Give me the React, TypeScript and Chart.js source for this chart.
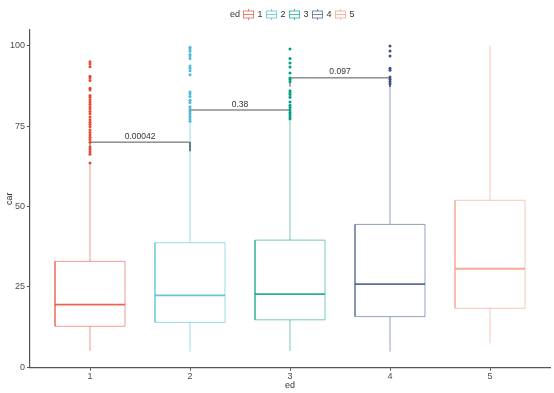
import React, { useEffect, useRef } from "react";
import { Chart, registerables } from "chart.js";
Chart.register(...registerables);

const categories = [1, 2, 3, 4, 5];
const q1 = [12.7, 13.9, 14.7, 15.7, 18.3];
const medians = [19.4, 22.3, 22.7, 25.8, 30.6];
const q3 = [32.9, 38.7, 39.5, 44.4, 51.9];
const whiskerLow = [5.1, 4.8, 5.0, 4.8, 7.4];
const whiskerHigh = [63, 76, 76.5, 87.5, 100];
const outliers1 = [95, 94.3, 93.5, 90.5, 90, 89.2, 86.8, 86.2, 84.5, 84, 83.2, 82.5, 81.8, 81, 80.3, 79.5, 78.8, 77.8, 77, 76.2, 75.5, 74.8, 73.8, 73, 72.2, 71.5, 70.8, 70, 68.5, 67.8, 67, 66.2, 63.5];
const outliers2 = [99.5, 99, 98.3, 97.3, 96.8, 96, 93.7, 93, 92.2, 91, 85.6, 85, 84.2, 83, 82.3, 81, 80.2, 79.5, 78.8, 78, 77.2, 76.5];
const outliers3 = [99, 96, 94.6, 93.4, 91.5, 90, 89.5, 88.8, 86, 85.4, 84.8, 84, 82.5, 81.5, 80.8, 80, 79.2, 78.5, 77.8, 77.2];
const outliers4 = [99.9, 98.4, 96.8, 93, 92.4, 90.3, 89.6, 88.9, 88.2];
const outliers5: number[] = [];
const outliers = [outliers1, outliers2, outliers3, outliers4, outliers5];
const yTicks = [0, 25, 50, 75, 100];
const bracketFrom = [1, 2, 3];
const bracketTo = [2, 3, 4];
const bracketY = [70, 80, 90];
const bracketLabels = ["0.00042", "0.38", "0.097"];
const colors = ["#E64B35", "#4DBBD5", "#00A087", "#3C5488", "#F39B7F"];
const HALF = 0.35;
const TICK = 2.8;

function rgba(hex: string, a: number) {
  const n = parseInt(hex.slice(1), 16);
  return `rgba(${(n >> 16) & 255},${(n >> 8) & 255},${n & 255},${a})`;
}

const FONT = "'Liberation Sans', Arial, sans-serif";

export default function App() {
  const ref = useRef<HTMLCanvasElement | null>(null);
  useEffect(() => {
    const datasets: any[] = [];
    categories.forEach((c, i) => {
      const col = rgba(colors[i], 0.55);
      const base = { type: "line", showLine: true, pointRadius: 0, borderWidth: 1, borderColor: col, fill: false, tension: 0 };
      datasets.push({ ...base, data: [{ x: c - HALF, y: q1[i] }, { x: c + HALF, y: q1[i] }, { x: c + HALF, y: q3[i] }, { x: c - HALF, y: q3[i] }, { x: c - HALF, y: q1[i] }] });
      datasets.push({ ...base, data: [{ x: c, y: whiskerLow[i] }, { x: c, y: q1[i] }] });
      datasets.push({ ...base, data: [{ x: c, y: q3[i] }, { x: c, y: whiskerHigh[i] }] });
      datasets.push({ ...base, borderColor: rgba(colors[i], 0.85), borderWidth: 1.8, data: [{ x: c - HALF, y: medians[i] }, { x: c + HALF, y: medians[i] }] });
    });
    categories.forEach((c, i) => {
      datasets.push({ type: "scatter", pointRadius: 1.5, borderWidth: 0, backgroundColor: colors[i], data: outliers[i].map((v) => ({ x: c, y: v })) });
    });
    bracketFrom.forEach((f, i) => {
      const t = bracketTo[i];
      const y = bracketY[i];
      datasets.push({ type: "line", showLine: true, pointRadius: 0, borderWidth: 1, borderColor: "#555", fill: false, data: [{ x: f, y: y - TICK }, { x: f, y }, { x: t, y }, { x: t, y: y - TICK }] });
    });

    const overlay = {
      id: "overlay",
      afterDraw(chart: any) {
        const ctx = chart.ctx;
        const xs = chart.scales.x, ys = chart.scales.y;
        ctx.save();
        ctx.font = `8.5px ${FONT}`;
        ctx.fillStyle = "#333";
        ctx.textAlign = "center";
        ctx.textBaseline = "bottom";
        bracketLabels.forEach((lab, i) => {
          const xm = (xs.getPixelForValue(bracketFrom[i]) + xs.getPixelForValue(bracketTo[i])) / 2;
          ctx.fillText(lab, xm, ys.getPixelForValue(bracketY[i]) - 1.5);
        });
        // legend
        ctx.font = `9px ${FONT}`;
        ctx.textBaseline = "middle";
        ctx.textAlign = "left";
        const cy = 14.5;
        ctx.fillText("ed", 230, cy);
        categories.forEach((c, i) => {
          const x0 = 243 + i * 23;
          ctx.strokeStyle = rgba(colors[i], 0.7);
          ctx.lineWidth = 1;
          ctx.strokeRect(x0 + 0.5, cy - 3.5, 10, 7);
          ctx.beginPath();
          ctx.moveTo(x0 + 0.5, cy);
          ctx.lineTo(x0 + 10.5, cy);
          ctx.moveTo(x0 + 5.5, cy - 5.5);
          ctx.lineTo(x0 + 5.5, cy - 3.5);
          ctx.moveTo(x0 + 5.5, cy + 3.5);
          ctx.lineTo(x0 + 5.5, cy + 5.5);
          ctx.stroke();
          ctx.fillStyle = "#333";
          ctx.fillText(String(c), x0 + 14.5, cy);
        });
        ctx.restore();
      },
    };

    const chart = new Chart(ref.current as HTMLCanvasElement, {
      type: "scatter",
      data: { datasets },
      options: {
        animation: false,
        responsive: false,
        layout: { padding: { top: 30, right: 4, left: 4, bottom: 2 } },
        plugins: { legend: { display: false }, tooltip: { enabled: false } },
        scales: {
          x: {
            type: "linear",
            min: 0.4,
            max: 5.6,
            afterBuildTicks: (s: any) => { s.ticks = categories.map((v) => ({ value: v })); },
            afterFit: (s: any) => { s.height = 23.3; },
            grid: { drawOnChartArea: false, drawTicks: true, tickLength: 3, color: "#555" },
            border: { color: "#555", width: 1.2 },
            ticks: { font: { size: 9, family: FONT }, color: "#4d4d4d", padding: 0, maxRotation: 0 },
            title: { display: true, text: "ed", font: { size: 9, family: FONT }, color: "#333", padding: { top: 0, bottom: 0 } },
          },
          y: {
            min: -0.2,
            max: 104.9,
            afterBuildTicks: (s: any) => { s.ticks = yTicks.map((v) => ({ value: v })); },
            afterFit: (s: any) => { s.width = 26; },
            grid: { drawOnChartArea: false, drawTicks: true, tickLength: 3, color: "#555" },
            border: { color: "#555", width: 1.2 },
            ticks: { font: { size: 9, family: FONT }, color: "#4d4d4d", padding: 2 },
            title: { display: true, text: "car", font: { size: 9, family: FONT }, color: "#333", padding: { top: 0, bottom: 0 } },
          },
        },
      },
      plugins: [overlay],
    } as any);
    return () => chart.destroy();
  }, []);
  return (
    <div style={{ position: "fixed", left: 0, top: 0, width: 554, height: 393, background: "#fff" }}>
      <canvas ref={ref} width={554} height={393} style={{ display: "block" }} />
    </div>
  );
}
